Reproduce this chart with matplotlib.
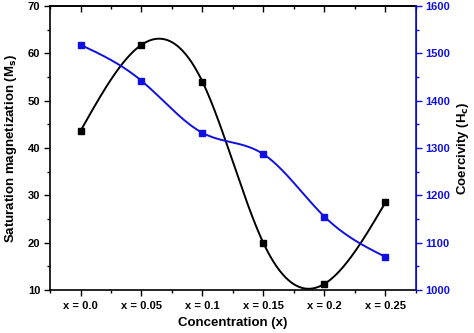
import numpy as np
import matplotlib
matplotlib.use("Agg")
import matplotlib.pyplot as plt
from matplotlib.ticker import MultipleLocator

plt.rcParams['font.family'] = ['Liberation Sans', 'DejaVu Sans']
plt.rcParams['font.weight'] = 'bold'

# Samples
categories = ["x = 0.0", "x = 0.05", "x = 0.1", "x = 0.15", "x = 0.2", "x = 0.25"]
ms_values = [43.6, 61.8, 54.0, 19.9, 11.3, 28.5]
hc_values = [1518, 1442, 1332, 1287, 1155, 1070]

BLUE = "#1010e0"


def natural_spline(x, y, n=300):
    # natural cubic spline through (x, y), evaluated on a fine grid
    x = np.asarray(x, float)
    y = np.asarray(y, float)
    k = len(x)
    h = np.diff(x)
    A = np.zeros((k, k))
    b = np.zeros(k)
    A[0, 0] = A[-1, -1] = 1
    for i in range(1, k - 1):
        A[i, i - 1] = h[i - 1]
        A[i, i] = 2 * (h[i - 1] + h[i])
        A[i, i + 1] = h[i]
        b[i] = 3 * ((y[i + 1] - y[i]) / h[i] - (y[i] - y[i - 1]) / h[i - 1])
    c = np.linalg.solve(A, b)
    xs = np.linspace(x[0], x[-1], n)
    idx = np.clip(np.searchsorted(x, xs) - 1, 0, k - 2)
    dx = xs - x[idx]
    hi = h[idx]
    bb = (y[idx + 1] - y[idx]) / hi - hi * (2 * c[idx] + c[idx + 1]) / 3
    dd = (c[idx + 1] - c[idx]) / (3 * hi)
    ys = y[idx] + bb * dx + c[idx] * dx ** 2 + dd * dx ** 3
    return xs, ys


pos = np.arange(len(categories))

fig = plt.figure(figsize=(4.74, 3.33), dpi=100)
ax = fig.add_axes([0.1055, 0.129, 0.772, 0.853])
ax2 = ax.twinx()

xs, ys = natural_spline(pos, ms_values)
ax.plot(xs, ys, color="black", lw=1.4)
ax.plot(pos, ms_values, "s", color="black", ms=4.5)

xs, ys = natural_spline(pos, hc_values)
ax2.plot(xs, ys, color=BLUE, lw=1.4)
ax2.plot(pos, hc_values, "s", color=BLUE, ms=4.5)

ax.set_xlim(-0.5, 5.5)
ax.set_ylim(10, 70)
ax2.set_ylim(1000, 1600)

ax.set_xticks(pos)
ax.set_xticklabels(categories)
ax.xaxis.set_minor_locator(MultipleLocator(0.5))
ax.yaxis.set_major_locator(MultipleLocator(10))
ax.yaxis.set_minor_locator(MultipleLocator(5))
ax2.yaxis.set_major_locator(MultipleLocator(100))
ax2.yaxis.set_minor_locator(MultipleLocator(50))

ax.tick_params(which="major", length=4, width=1, labelsize=8, pad=3)
ax.tick_params(which="minor", length=2.5, width=1)
ax.tick_params(axis="x", which="major", pad=4)
ax2.tick_params(which="major", length=4, width=1, labelsize=8, colors=BLUE, pad=3)
ax2.tick_params(which="minor", length=2.5, width=1, colors=BLUE)

# mirrored ticks along the top edge
top = ax.secondary_xaxis("top")
top.set_xticks(pos)
top.xaxis.set_minor_locator(MultipleLocator(0.5))
top.tick_params(which="both", direction="in", labeltop=False)
top.tick_params(which="major", length=4, width=1)
top.tick_params(which="minor", length=2.5, width=1)

for s in ["left", "bottom", "top"]:
    ax.spines[s].set_linewidth(1.2)
ax2.spines["right"].set_color(BLUE)
ax2.spines["right"].set_linewidth(1.2)
ax2.spines["left"].set_visible(False)
ax2.spines["top"].set_visible(False)
ax2.spines["bottom"].set_visible(False)
top.spines["top"].set_linewidth(1.2)

ax.set_xlabel("Concentration (x)", fontsize=9.5, fontweight="bold", labelpad=4)
ax.set_ylabel("Saturation magnetization (M$_\\mathbf{s}$)", fontsize=9.5,
              fontweight="bold", labelpad=6)
ax2.set_ylabel("Coercivity (H$_\\mathbf{c}$)", fontsize=9.5, fontweight="bold",
               labelpad=3)

fig.savefig("out.png", dpi=100)
